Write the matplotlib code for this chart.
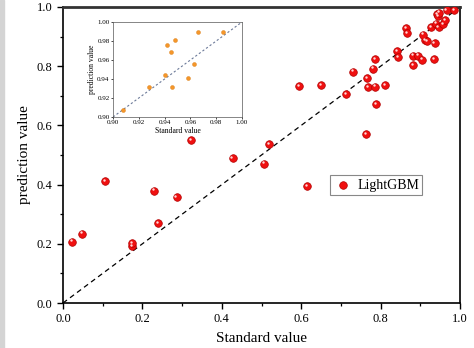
import matplotlib
matplotlib.use("Agg")
import matplotlib.pyplot as plt
import matplotlib.patches as mpatches
from matplotlib.transforms import offset_copy
from matplotlib.ticker import MultipleLocator, FormatStrFormatter

plt.rcParams["font.family"] = ["Liberation Serif", "DejaVu Serif"]

# values
std_main = [0.023, 0.048, 0.107, 0.173, 0.175, 0.229, 0.239, 0.286, 0.322, 0.427,
            0.507, 0.520, 0.595, 0.615, 0.651, 0.712, 0.730, 0.764, 0.765, 0.769,
            0.781, 0.785, 0.786, 0.788, 0.812, 0.841, 0.843, 0.863, 0.866, 0.882,
            0.882, 0.895, 0.905, 0.913, 0.917, 0.934, 0.936]
pred_main = [0.207, 0.234, 0.413, 0.193, 0.202, 0.380, 0.271, 0.357, 0.549, 0.490,
             0.471, 0.538, 0.733, 0.396, 0.737, 0.705, 0.782, 0.570, 0.759, 0.729,
             0.792, 0.824, 0.731, 0.672, 0.736, 0.850, 0.831, 0.928, 0.911, 0.804,
             0.836, 0.836, 0.822, 0.888, 0.884, 0.825, 0.878]

# zoomed region (both values above 0.9)
std_top = [0.908, 0.928, 0.940, 0.942, 0.945, 0.948, 0.946, 0.958, 0.963, 0.966, 0.985]
pred_top = [0.907, 0.932, 0.944, 0.976, 0.968, 0.981, 0.932, 0.941, 0.956, 0.989, 0.989]

std_all = std_main + std_top
pred_all = pred_main + pred_top

fig = plt.figure(figsize=(4.74, 3.48), dpi=100)
fig.patches.append(mpatches.Rectangle((0, 0), 4 / 474, 1, transform=fig.transFigure,
                                      color="#d4d4d4", zorder=0))

ax = fig.add_axes([0.1329, 0.1293, 0.8376, 0.8506])
ax.plot([0, 1], [0, 1], color="black", ls=(0, (4, 3)), lw=0.9, zorder=1)
ax.scatter(std_all, pred_all, s=30, color="#f01010", edgecolor="#b00000",
           linewidth=0.5, zorder=3, label="LightGBM")
# small highlight so the markers look like the shaded spheres
hl = offset_copy(ax.transData, fig=fig, x=-0.8, y=0.9, units="points")
ax.scatter(std_all, pred_all, s=3, color="#ffd8d8", linewidth=0, transform=hl, zorder=4)

ax.set_xlim(0, 1)
ax.set_ylim(0, 1)
ax.xaxis.set_major_locator(MultipleLocator(0.2))
ax.yaxis.set_major_locator(MultipleLocator(0.2))
ax.xaxis.set_minor_locator(MultipleLocator(0.1))
ax.yaxis.set_minor_locator(MultipleLocator(0.1))
ax.tick_params(which="major", direction="out", length=4, width=1.0, labelsize=9)
ax.tick_params(which="minor", direction="out", length=2.5, width=0.9)
for s in ax.spines.values():
    s.set_linewidth(1.2)
ax.spines["top"].set_linewidth(2)
ax.spines["top"].set_color("#333333")
ax.set_xlabel("Standard value", fontsize=11, labelpad=5)
ax.set_ylabel("prediction value", fontsize=11, labelpad=4)

leg = ax.legend(loc="upper left", bbox_to_anchor=(0.6725, 0.432), fontsize=10,
                fancybox=False, edgecolor="#888888", framealpha=1,
                borderpad=0.25, handletextpad=0.3, handlelength=1.4,
                borderaxespad=0)
leg.get_frame().set_linewidth(0.8)

# inset
axi = fig.add_axes([0.2384, 0.6638, 0.2722, 0.2730])
axi.plot([0.9, 1], [0.9, 1], color="#6c7a99", ls=(0, (2, 2)), lw=0.8, zorder=1)
axi.scatter(std_top, pred_top, s=8, color="#f5962a", edgecolor="#d87a10",
            linewidth=0.3, zorder=3)
axi.set_xlim(0.9, 1.0)
axi.set_ylim(0.9, 1.0)
axi.xaxis.set_major_locator(MultipleLocator(0.02))
axi.yaxis.set_major_locator(MultipleLocator(0.02))
axi.xaxis.set_major_formatter(FormatStrFormatter("%.2f"))
axi.yaxis.set_major_formatter(FormatStrFormatter("%.2f"))
axi.tick_params(direction="out", length=1.5, width=0.5, labelsize=5, pad=1)
for s in axi.spines.values():
    s.set_linewidth(0.5)
    s.set_color("#555555")
axi.set_xlabel("Standard value", fontsize=5.5, labelpad=1)
axi.set_ylabel("prediction value", fontsize=5.5, labelpad=1)

fig.savefig("out.png", dpi=100)
